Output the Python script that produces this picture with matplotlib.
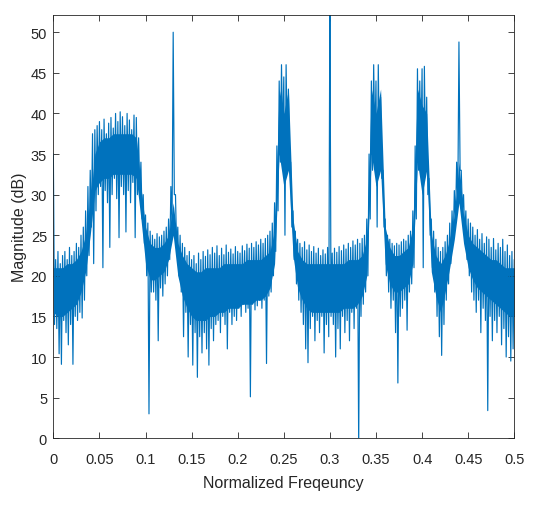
import numpy as np
import matplotlib
matplotlib.use('Agg')
import matplotlib.pyplot as plt

# sample grid of the spectrum (normalized frequency), step 0.0025
freq_step = 0.0025
n_samples = 201

# local maxima, one per grid step
upper_db = [
    35, 22, 23, 21.5, 22.5, 23, 22, 23.5, 22.5, 23,
    24, 23.5, 25, 26, 28, 31, 33, 37.5, 38, 38.5,
    39, 38, 39.3, 37.5, 38.8, 39.5, 38.2, 40, 39, 40.2,
    39.6, 38.5, 40, 39.2, 38, 39.8, 39.5, 37, 34, 30,
    27.5, 26.5, 25.5, 25, 24.5, 25.2, 24.8, 25, 25.5, 26,
    27, 31, 50, 30, 26, 25, 24, 23.5, 22.5, 23,
    22, 22.5, 21.5, 22.8, 22, 23, 22.4, 23.2, 22.6, 23.5,
    22.8, 23.7, 22.5, 23.4, 22.6, 23.8, 22.9, 23.3, 22.7, 23.6,
    23, 22.8, 23.7, 23.1, 23.9, 23.4, 24, 23.5, 24.2, 23.8,
    24.5, 24, 24.6, 25, 25.5, 26.5, 29, 36, 44, 46,
    44.5, 46, 43, 34, 28, 25.5, 24.5, 24, 23.5, 24.2,
    23.2, 23.8, 23, 23.6, 22.8, 23.4, 22.5, 23.2, 22.7, 23.5,
    55, 22.8, 23.4, 22.9, 23.6, 23.1, 23.8, 23.3, 24, 23.5,
    24.3, 23.8, 24.5, 24, 24.6, 25, 27, 35, 44, 46,
    44, 46, 42, 33, 27, 25, 24.5, 24, 23.7, 24,
    23.8, 24.2, 24.5, 24.3, 25, 25.5, 28, 36, 45.5, 44,
    45.5, 45.8, 42, 32, 27, 25.5, 24.5, 23.5, 23, 23.5,
    24.2, 25, 26.5, 28, 30.5, 34, 48.8, 33, 30, 28,
    27, 26.5, 26, 25, 25.7, 24.5, 25.2, 24, 24.8, 24.5,
    23.5, 24.6, 23.2, 24, 23.5, 24.5, 23, 23.8, 22.5, 23,
    22,
]

# local minima, half a step after each maximum
lower_db = [
    14, 13.5, 10.4, 9.1, 14.5, 13, 11.5, 14, 9.1, 15,
    14.5, 15.5, 14.8, 17, 20, 22.5, 26, 21.5, 28, 30,
    31, 21, 30.5, 29, 23.5, 30, 32, 29.5, 24.7, 31,
    30, 25.4, 30.5, 29, 31.5, 24.7, 30, 30.5, 27, 24,
    20, 3.0, 18, 18, 17, 12, 18.5, 17.5, 19, 20,
    22, 26, 30, 23, 20, 18, 12.5, 15.5, 10, 14,
    9, 13, 7.5, 12.5, 10.5, 13, 11, 9, 13.5, 12,
    14, 14.5, 13, 15, 14, 11, 15.5, 14, 15, 14.5,
    16, 15, 16.5, 15.5, 16, 5.1, 16.5, 15.8, 16.3, 17,
    16, 17, 9.2, 17.5, 18, 20, 23, 28, 34, 37,
    25, 36, 33, 26, 22, 19, 17, 15.5, 14, 11,
    9.3, 13.5, 15, 12, 14.5, 13, 15, 10.5, 14, 12.5,
    15, 14, 10, 13.5, 11, 15, 13, 14.5, 12, 15.5,
    13.5, 16, -1, 15, 16.5, 18, 20, 27, 33, 36,
    26, 35, 32, 26, 20, 18, 16, 17, 13, 6.8,
    15, 16, 17, 13.3, 18, 19, 21, 27, 33, 35,
    21, 34, 30, 25, 21, 18, 15, 12.5, 10.2, 14,
    17, 19, 21.5, 24, 26.5, 29, 33, 28, 25, 22,
    20, 18, 17, 15.5, 17, 13, 16, 14.5, 3.4, 15,
    12, 14.5, 13, 15, 11.5, 13.5, 10, 12.5, 9.5, 11,
    13,
]

# edges of the solid core of the trace, step 0.005
core_step = 0.005
core_top_db = [
    21, 21, 21, 21.5, 21.5, 22, 23, 25, 29, 35,
    36.5, 37, 37, 37.5, 37.5, 37.5, 37.5, 37.5, 37, 31,
    26, 24, 23.5, 23.5, 24, 25, 29, 24, 22.5, 21.5,
    21, 20.5, 20.5, 21, 21, 21, 21, 21.5, 21.5, 21.5,
    21.5, 21.5, 22, 22, 22, 22, 22.5, 23, 25.5, 43,
    40, 43, 27, 23, 22, 21.5, 21.5, 21.5, 21.5, 21.5,
    21.5, 21.5, 21.5, 21.5, 22, 22, 22, 22.5, 24.5, 43,
    40, 43, 26, 23.5, 22.5, 22.5, 23, 23.5, 26, 43,
    41, 40, 25, 22.5, 21.5, 22.5, 24.5, 27.5, 34, 27.5,
    25, 24, 23.5, 23, 22.5, 22, 22, 21.5, 21, 21,
    21,
]
core_bottom_db = [
    15.5, 15, 15, 15.5, 16, 16.5, 18, 20.5, 25, 30.5,
    31.5, 32, 32, 32.5, 32.5, 32.5, 32.5, 32.5, 32, 27,
    21.5, 19.5, 19.5, 20, 20.5, 22, 25, 20, 17.5, 16,
    15, 14.5, 14.5, 14.5, 15, 15, 15.5, 15.5, 16, 16,
    16, 16.5, 16.5, 16.5, 17, 17, 17.5, 18.5, 21.5, 35,
    31, 33, 22.5, 18.5, 17, 16, 15.5, 15.5, 15.5, 15.5,
    15.5, 15.5, 15.5, 16, 16, 16, 16.5, 17.5, 20, 35,
    31, 33, 21.5, 19, 18, 18, 18.5, 19, 21.5, 34,
    30, 33, 20.5, 17.5, 15.5, 18, 21, 24.5, 29, 24,
    21, 19.5, 18.5, 18, 17.5, 17, 16.5, 16, 15.5, 15,
    15,
]

x_ticks = [0, 0.05, 0.1, 0.15, 0.2, 0.25, 0.3, 0.35, 0.4, 0.45, 0.5]
x_tick_labels = ['0', '0.05', '0.1', '0.15', '0.2', '0.25', '0.3', '0.35', '0.4', '0.45', '0.5']
y_ticks = list(range(0, 51, 5))

LINE_COLOR = '#0072BD'
TEXT_COLOR = '#262626'


def build_series():
    # interleave maxima and minima into one trace
    f_up = np.arange(n_samples) * freq_step
    f_low = f_up + freq_step / 2
    freq = np.empty(2 * n_samples)
    mag = np.empty(2 * n_samples)
    freq[0::2], freq[1::2] = f_up, f_low
    mag[0::2], mag[1::2] = upper_db, lower_db
    return freq, mag


def main():
    plt.rcParams['font.family'] = ['Liberation Sans', 'DejaVu Sans']

    freq, mag = build_series()
    core_freq = np.arange(len(core_top_db)) * core_step

    fig = plt.figure(figsize=(5.5, 5.06), dpi=100)
    ax = fig.add_axes([0.097, 0.132, 0.838, 0.836])
    ax.fill_between(core_freq, core_bottom_db, core_top_db, color=LINE_COLOR, linewidth=0)
    ax.plot(freq, mag, color=LINE_COLOR, linewidth=0.85)

    ax.set_xlim(0, 0.5)
    ax.set_ylim(0, 52.1)
    ax.set_xticks(x_ticks)
    ax.set_xticklabels(x_tick_labels)
    ax.set_yticks(y_ticks)

    ax.tick_params(direction='in', length=4.5, width=0.6, colors=TEXT_COLOR,
                   labelsize=10.5, top=True, right=True)
    ax.tick_params(axis='x', pad=10)
    ax.tick_params(axis='y', pad=4.5)
    for spine in ax.spines.values():
        spine.set_color(TEXT_COLOR)
        spine.set_linewidth(0.6)

    ax.set_xlabel('Normalized Freqeuncy', fontsize=11.5, color=TEXT_COLOR, labelpad=6.5)
    ax.set_ylabel('Magnitude (dB)', fontsize=11.5, color=TEXT_COLOR, labelpad=2.5)

    fig.savefig('out.png', dpi=100)


if __name__ == "__main__":
    main()
